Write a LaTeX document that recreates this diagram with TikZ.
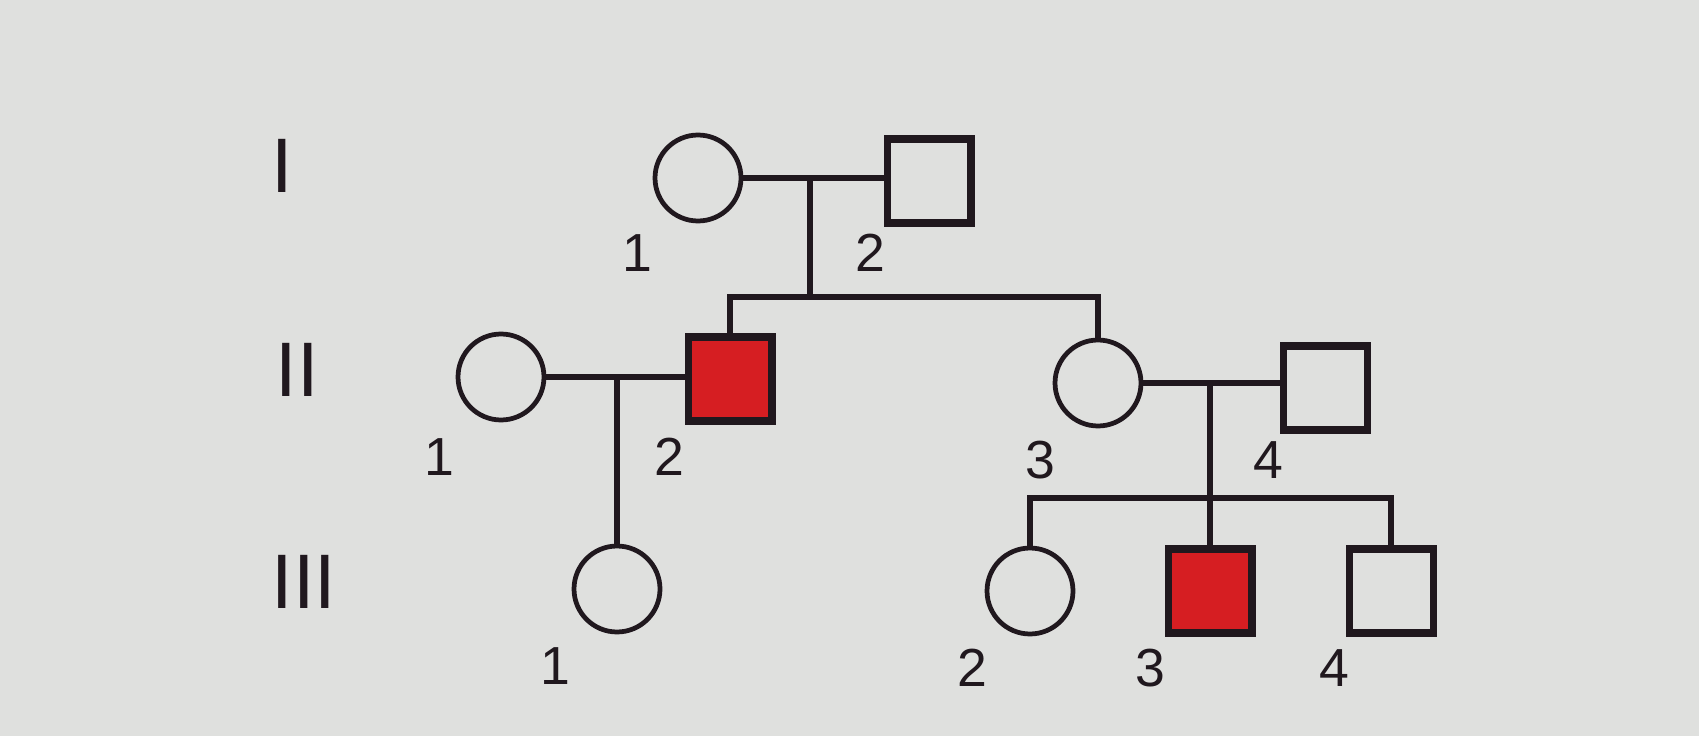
\documentclass[tikz,border=0pt]{standalone}
\usepackage{fontspec}
\setmainfont{Liberation Sans}
\definecolor{bg}{RGB}{223,224,222}
\definecolor{ink}{RGB}{32,24,30}
\definecolor{aff}{RGB}{214,30,34}
\tikzset{
  female/.style={circle,draw=ink,line width=2.7pt,minimum size=1.72cm,inner sep=0pt},
  male/.style={rectangle,draw=ink,line width=4pt,minimum size=1.68cm,inner sep=0pt},
  affected/.style={fill=aff},
  link/.style={draw=ink,line width=2.9pt},
  num/.style={text=ink,font=\fontsize{30.5}{32}\selectfont,inner sep=0pt},
  gen/.style={text=ink,font=\fontsize{44}{46}\selectfont,inner sep=0pt}
}
\begin{document}
\begin{tikzpicture}[x=0.02cm,y=-0.02cm]
\useasboundingbox (0,0) rectangle (1699,736);
\fill[bg] (0,0) rectangle (1699,736);

% generation labels
\node[gen] (gI) at (282,166) {I};
\node[gen] (gII) at (297,370) {II};
\node[gen] (gIII) at (304,582) {III};

% generation I
\node[female] (I1) at (698,178) {};
\node[male] (I2) at (929,181) {};
% generation II
\node[female] (II1) at (501,377) {};
\node[male,affected] (II2) at (730,379) {};
\node[female] (II3) at (1098,383) {};
\node[male] (II4) at (1325,388) {};
% generation III
\node[female] (III1) at (617,589) {};
\node[female] (III2) at (1030,591) {};
\node[male,affected] (III3) at (1210,591) {};
\node[male] (III4) at (1391,591) {};

% connectors
\coordinate (m1) at (810,178);
\coordinate (s1) at (810,297);
\draw[link] (I1.east) -- (I1.east -| I2.west);
\draw[link] (m1) -- (s1);
\draw[link] (II2.north) -- (II2.north |- s1) -- (II3.north |- s1) -- (II3.north);

\coordinate (m2) at (617,377);
\draw[link] (II1.east) -- (II1.east -| II2.west);
\draw[link] (m2) -- (III1.north);

\coordinate (m3) at (1210,383);
\coordinate (s3) at (1210,498);
\draw[link] (II3.east) -- (II3.east -| II4.west);
\draw[link] (m3) -- (s3);
\draw[link] (III2.north) -- (III2.north |- s3) -- (III4.north |- s3) -- (III4.north);
\draw[link] (s3) -- (III3.north);

% numbers
\node[num] (nI1) at (637,253) {1};
\node[num] (nI2) at (870,253) {2};
\node[num] (nII1) at (439,457) {1};
\node[num] (nII2) at (669,457) {2};
\node[num] (nII3) at (1040,460) {3};
\node[num] (nII4) at (1268,460) {4};
\node[num] (nIII1) at (555,666) {1};
\node[num] (nIII2) at (972,668) {2};
\node[num] (nIII3) at (1150,668) {3};
\node[num] (nIII4) at (1334,668) {4};
\end{tikzpicture}
\end{document}
